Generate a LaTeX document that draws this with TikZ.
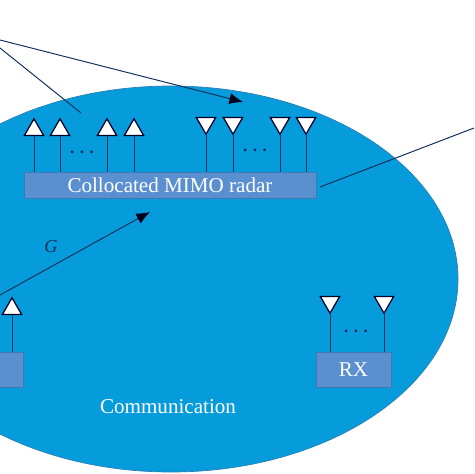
\documentclass[tikz,border=0pt]{standalone}
\usepackage{fontspec}
\setmainfont{Liberation Serif}
\usetikzlibrary{shapes.geometric,arrows.meta}
\definecolor{areablue}{HTML}{069CDC}
\definecolor{areaedge}{HTML}{2C7FB5}
\definecolor{boxblue}{HTML}{5B90D0}
\definecolor{boxedge}{HTML}{3F78B4}
\definecolor{wirenavy}{HTML}{12305C}
\tikzset{
  antup/.style={draw=black!85!blue,fill=white,line width=0.9pt,regular polygon,regular polygon sides=3,inner sep=0pt,minimum size=5.6mm},
  antdown/.style={antup,shape border rotate=180},
  unitbox/.style={draw=boxedge,fill=boxblue,line width=0.4pt,text=white,inner sep=0pt},
  wire/.style={draw=wirenavy,line width=0.7pt},
  link/.style={wire,-{Latex[length=3.4mm,width=2.8mm,color=black!90!blue]}},
  dotslabel/.style={text=wirenavy,font=\fontsize{12}{14}\selectfont\bfseries}
}
\begin{document}
\begin{tikzpicture}[x=0.25mm,y=-0.25mm]
  \useasboundingbox (0,0) rectangle (474,474);
  \clip (0,0) rectangle (474,474);
  \node[draw=areaedge,fill=areablue,line width=0.5pt,ellipse,inner sep=0pt,minimum width=14.35cm,minimum height=9.65cm] (area) at (171,279) {};
  % radar
  \node[unitbox,minimum width=7.3cm,minimum height=6.5mm,font=\fontsize{15}{17}\selectfont] (radar) at (170,185) {Collocated MIMO radar};
  \foreach \x in {34,60,107,134}{
    \node[antup] (tx\x) at (\x,130) {};
    \draw[wire] (tx\x.south) -- (tx\x.south |- radar.north);
  }
  \foreach \x in {206,233,280,306}{
    \node[antdown] (rx\x) at (\x,123) {};
    \draw[wire] (rx\x.south) -- (rx\x.south |- radar.north);
  }
  \node[dotslabel] (txdots) at (82,152) {. . .};
  \node[dotslabel] (rxdots) at (255,150) {. . .};
  % comm TX
  \node[unitbox,minimum width=1.5cm,minimum height=8.75mm] (commtx) at (-7,369.5) {};
  \node[antup] (commant) at (12,309) {};
  \draw[wire] (commant.south) -- (commant.south |- commtx.north);
  % comm RX
  \node[unitbox,minimum width=1.875cm,minimum height=8.75mm,font=\fontsize{15}{17}\selectfont] (rxbox) at (353.5,369.5) {RX};
  \foreach \x in {330,384}{
    \node[antdown] (cr\x) at (\x,302) {};
    \draw[wire] (cr\x.south) -- (cr\x.south |- rxbox.north);
  }
  \node[dotslabel] (crdots) at (356,331) {. . .};
  \node[text=white,font=\fontsize{15}{17}\selectfont] (commlabel) at (168,407) {Communication};
  \node[text=wirenavy,font=\fontsize{13}{15}\selectfont\itshape] (glabel) at (51,247) {G};
  % links
  \coordinate (a1) at (0,40);
  \coordinate (a2) at (243,102);
  \coordinate (b1) at (0,48);
  \coordinate (b2) at (81,113);
  \coordinate (c1) at (0,295);
  \coordinate (c2) at (150,212);
  \coordinate (d1) at (320,187);
  \coordinate (d2) at (474,128);
  \draw[link] (a1) -- (a2);
  \draw[wire] (b1) -- (b2);
  \draw[link] (c1) -- (c2);
  \draw[wire] (d1) -- (d2);
\end{tikzpicture}
\end{document}
